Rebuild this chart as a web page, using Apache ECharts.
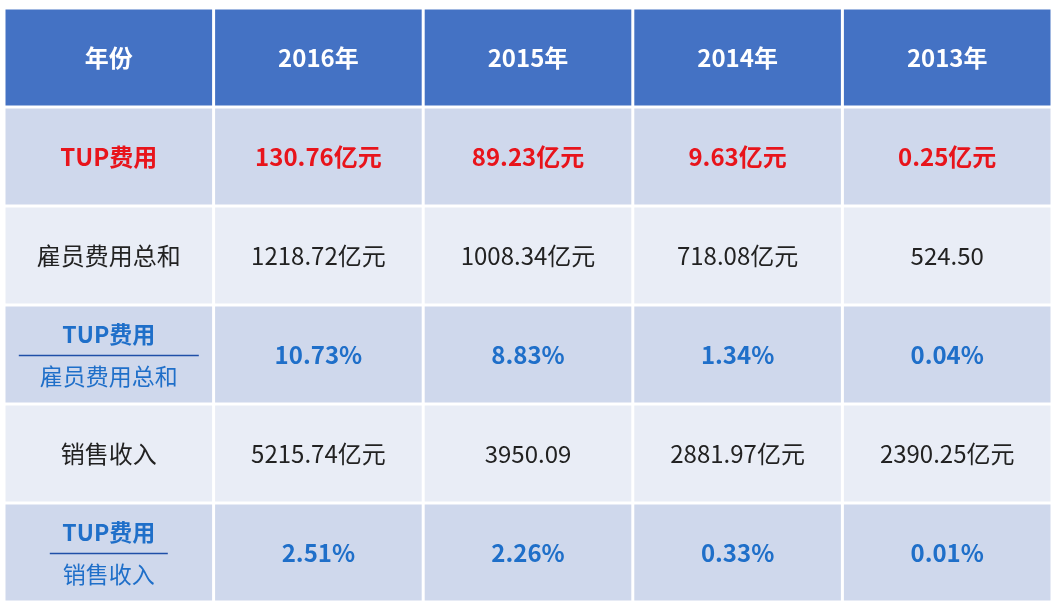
<!DOCTYPE html>
<html><head><meta charset="utf-8">
<script src="https://cdn.jsdelivr.net/npm/echarts@6/dist/echarts.min.js"></script>
<style>html,body{margin:0;padding:0;background:#fff}#c{width:1056px;height:608px}</style>
</head><body><div id="c"></div>
<script>
const headerLabel = '年份';
const years = ['2016年','2015年','2014年','2013年'];
const rowLabels = ['TUP费用','雇员费用总和',['TUP费用','雇员费用总和'],'销售收入',['TUP费用','销售收入']];
const tupCost = ['130.76亿元','89.23亿元','9.63亿元','0.25亿元'];
const employeeCost = ['1218.72亿元','1008.34亿元','718.08亿元','524.50'];
const tupRatioEmp = ['10.73%','8.83%','1.34%','0.04%'];
const revenue = ['5215.74亿元','3950.09','2881.97亿元','2390.25亿元'];
const tupRatioRev = ['2.51%','2.26%','0.33%','0.01%'];

const rowsData = [tupCost, employeeCost, tupRatioEmp, revenue, tupRatioRev];
const rowKinds = ['red','plain','blue','plain','blue'];
const cells = [];
cells.push([0,0,headerLabel,'header']);
years.forEach((y,i)=>cells.push([i+1,0,y,'header']));
rowsData.forEach((arr,r)=>{
  const lab = rowLabels[r];
  cells.push([0,r+1,Array.isArray(lab)?lab.join('|'):lab, Array.isArray(lab)?'frac':rowKinds[r]]);
  arr.forEach((v,c)=>cells.push([c+1,r+1,v,rowKinds[r]]));
});
const bg = {0:'#4472c4',1:'#cfd8ec',2:'#e9edf6',3:'#cfd8ec',4:'#e9edf6',5:'#cfd8ec'};
const font = '"Noto Sans CJK SC", "Noto Sans", sans-serif';
const chart = echarts.init(document.getElementById('c'));
chart.setOption({
  animation:false,
  grid:{left:4,right:4,top:8,bottom:6},
  xAxis:{type:'category',data:[0,1,2,3,4],show:false},
  yAxis:{type:'category',data:[0,1,2,3,4,5],inverse:true,show:false},
  series:[{
    type:'custom',
    data:cells,
    encode:{x:0,y:1},
    renderItem:(params,api)=>{
      const c=api.value(0), r=api.value(1);
      const p=api.coord([c,r]); const s=api.size([1,1]);
      const w=s[0]-3, h=s[1]-3;
      const d=cells[params.dataIndex];
      const kind=d[3], text=d[2];
      const children=[{type:'rect',shape:{x:p[0]-w/2,y:p[1]-h/2,width:w,height:h},style:{fill:bg[r]}}];
      const colors={header:'#fff',red:'#e8141b',blue:'#1f6fc9',plain:'#222',frac:'#1f6fc9'};
      const bold = kind!=='plain';
      if(kind==='frac'){
        const [a,b]=text.split('|');
        children.push({type:'text',style:{x:p[0],y:p[1]-20,text:a,fill:colors.frac,font:'bold 23px '+font,align:'center',verticalAlign:'middle'}});
        const lw = b.length>4?180:118;
        children.push({type:'line',shape:{x1:p[0]-lw/2,y1:p[1]+1,x2:p[0]+lw/2,y2:p[1]+1},style:{stroke:'#1f4fa8',lineWidth:1.5}});
        children.push({type:'text',style:{x:p[0],y:p[1]+22,text:b,fill:colors.frac,font:'23px '+font,align:'center',verticalAlign:'middle'}});
      } else {
        children.push({type:'text',style:{x:p[0],y:p[1],text:text,fill:colors[kind],font:(bold?'bold ':'')+'24px '+font,align:'center',verticalAlign:'middle'}});
      }
      return {type:'group',children};
    }
  }]
});
</script></body></html>
